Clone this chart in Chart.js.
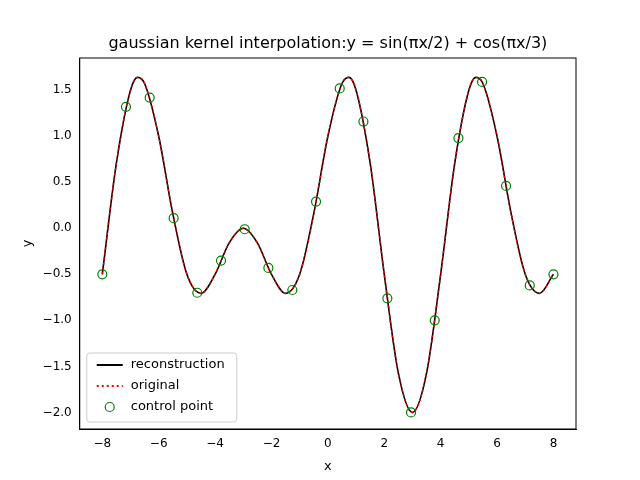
<!DOCTYPE html>
<html>
<head>
<meta charset="utf-8">
<script src="https://cdn.jsdelivr.net/npm/chart.js@4"></script>
<style>
  html, body { margin: 0; padding: 0; background: #fff; }
  #wrap { width: 640px; height: 480px; }
</style>
</head>
<body>
<div id="wrap"><canvas id="c" width="640" height="480"></canvas></div>
<script>
const curveX = [-8, -7.5, -7, -6.75, -6.5, -6, -5.5, -5, -4.5, -4, -3.5, -3, -2.5, -2, -1.5, -1, -0.5, 0, 0.5, 0.75, 1, 1.5, 2, 2.5, 3, 3.5, 4, 4.5, 5, 5.25, 5.5, 6, 6.5, 7, 7.5, 8];
const curveY = [-0.5, 0.707, 1.5, 1.64, 1.573, 1, 0.159, -0.5, -0.707, -0.5, -0.159, 0, -0.159, -0.5, -0.707, -0.5, 0.159, 1, 1.573, 1.64, 1.5, 0.707, -0.5, -1.573, -2, -1.573, -0.5, 0.707, 1.5, 1.64, 1.573, 1, 0.159, -0.5, -0.707, -0.5];
const ctrlX = [-8, -7.16, -6.32, -5.47, -4.63, -3.79, -2.95, -2.11, -1.26, -0.42, 0.42, 1.26, 2.11, 2.95, 3.79, 4.63, 5.47, 6.32, 7.16, 8];
const ctrlY = [-0.5, 1.32, 1.42, 0.11, -0.70, -0.35, -0.01, -0.43, -0.67, 0.29, 1.52, 1.16, -0.76, -2.0, -1.0, 0.98, 1.59, 0.46, -0.62, -0.5];
const xTicks = [-8, -6, -4, -2, 0, 2, 4, 6, 8];
const yTicks = [-2.0, -1.5, -1.0, -0.5, 0.0, 0.5, 1.0, 1.5];

const pts = (xs, ys) => xs.map((x, i) => ({ x: x, y: ys[i] }));
const FONT = 'DejaVu Sans';

const legendPlugin = {
  id: 'boxLegend',
  afterDraw(chart) {
    const { ctx, chartArea } = chart;
    const x0 = chartArea.left + 7, y0 = chartArea.bottom - 76;
    ctx.save();
    ctx.fillStyle = 'rgba(255,255,255,0.8)';
    ctx.strokeStyle = '#ccc';
    ctx.lineWidth = 1;
    ctx.beginPath();
    ctx.roundRect(x0, y0, 150, 69, 3);
    ctx.fill(); ctx.stroke();
    ctx.font = '13px ' + FONT;
    ctx.fillStyle = '#000';
    ctx.textBaseline = 'middle';
    ['reconstruction', 'original', 'control point'].forEach((t, i) => {
      ctx.fillText(t, x0 + 44, y0 + 12 + i * 21);
    });
    ctx.lineWidth = 2;
    ctx.strokeStyle = '#000';
    ctx.beginPath(); ctx.moveTo(x0 + 10, y0 + 12); ctx.lineTo(x0 + 36, y0 + 12); ctx.stroke();
    ctx.strokeStyle = 'red';
    ctx.setLineDash([2, 3]);
    ctx.beginPath(); ctx.moveTo(x0 + 10, y0 + 33); ctx.lineTo(x0 + 36, y0 + 33); ctx.stroke();
    ctx.setLineDash([]);
    ctx.lineWidth = 1.2;
    ctx.strokeStyle = 'green';
    ctx.beginPath(); ctx.arc(x0 + 23, y0 + 54, 4.5, 0, Math.PI * 2); ctx.stroke();
    ctx.restore();
  }
};

const titlePlugin = {
  id: 'plotTitle',
  afterDraw(chart) {
    const { ctx, chartArea: a } = chart;
    ctx.save();
    ctx.font = '16px ' + FONT;
    ctx.fillStyle = '#000';
    ctx.textAlign = 'center';
    ctx.textBaseline = 'bottom';
    ctx.fillText('gaussian kernel interpolation:y = sin(πx/2) + cos(πx/3)', (a.left + a.right) / 2, a.top - 6);
    ctx.strokeStyle = '#000';
    ctx.lineWidth = 1;
    ctx.strokeRect(a.left, a.top, a.right - a.left, a.bottom - a.top);
    ctx.restore();
  }
};

new Chart(document.getElementById('c').getContext('2d'), {
  type: 'scatter',
  data: {
    datasets: [{
      label: 'reconstruction',
      data: pts(curveX, curveY),
      showLine: true,
      borderColor: '#000',
      borderWidth: 1.6,
      pointRadius: 0,
      order: 3,
      cubicInterpolationMode: 'monotone'
    }, {
      label: 'original',
      data: pts(curveX, curveY),
      showLine: true,
      borderColor: 'red',
      borderWidth: 1.5,
      borderDash: [2, 3],
      pointRadius: 0,
      order: 2,
      cubicInterpolationMode: 'monotone'
    }, {
      label: 'control point',
      data: pts(ctrlX, ctrlY),
      pointRadius: 4.5,
      pointBorderColor: 'green',
      pointBackgroundColor: 'rgba(0,0,0,0)',
      pointBorderWidth: 1.2,
      order: 1
    }]
  },
  options: {
    responsive: false,
    animation: false,
    layout: { padding: { left: 16, right: 64, top: 58, bottom: 2 } },
    plugins: {
      legend: { display: false },
      tooltip: { enabled: false }
    },
    scales: {
      x: {
        type: 'linear', min: -8.8, max: 8.8,
        afterBuildTicks: (s) => { s.ticks = xTicks.map(v => ({ value: v })); },
        ticks: { color: '#000', font: { family: FONT, size: 12 }, callback: v => String(v).replace('-', '−') },
        grid: { display: false, drawTicks: true, tickLength: 5, tickColor: '#000' },
        border: { color: '#000' },
        title: { display: true, text: 'x', color: '#000', font: { family: FONT, size: 13 } }
      },
      y: {
        min: -2.18, max: 1.85,
        afterBuildTicks: (s) => { s.ticks = yTicks.map(v => ({ value: v })); },
        ticks: { color: '#000', font: { family: FONT, size: 12 }, callback: v => v.toFixed(1).replace('-', '−') },
        grid: { display: false, drawTicks: true, tickLength: 5, tickColor: '#000' },
        border: { color: '#000' },
        title: { display: true, text: 'y', color: '#000', font: { family: FONT, size: 13 } }
      }
    }
  },
  plugins: [legendPlugin, titlePlugin]
});
</script>
</body>
</html>
